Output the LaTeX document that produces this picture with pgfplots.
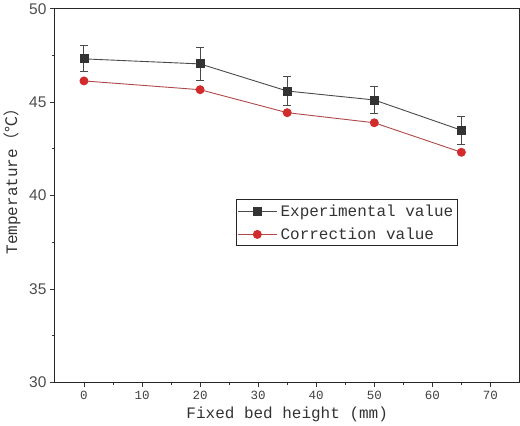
\documentclass[border=0pt]{standalone}
\usepackage{pgfplots}
\pgfplotsset{compat=1.18}
\usepackage{fontspec}
\setmainfont{Liberation Sans}
\newfontfamily\mono{Liberation Mono}
\newfontfamily\cjk{Noto Sans CJK SC}
\definecolor{expc}{HTML}{333333}
\definecolor{expl}{HTML}{4A4A4A}
\definecolor{corc}{HTML}{D22B2B}
\definecolor{corl}{HTML}{B04848}
\begin{document}
\begin{tikzpicture}
\begin{axis}[
  scale only axis,
  width=465pt, height=374pt,
  xmin=-5, xmax=75, ymin=30, ymax=50,
  xtick={0,10,...,70}, ytick={30,35,...,50},
  minor x tick num=1, minor y tick num=1,
  tick pos=left, tick align=outside,
  major tick length=5pt, minor tick length=3pt,
  axis line style={line width=1.1pt, black!85},
  every tick/.style={line width=0.9pt, black!80},
  /pgf/number format/assume math mode=true,
  x tick label style={font=\mono\fontsize{12.5}{13}\selectfont, text=black!75},
  y tick label style={font=\fontsize{15.5}{15}\selectfont, text=black!70},
  xlabel={\mono Fixed bed height (mm)},
  ylabel={\mono Temperature\cjk{（℃）}},
  label style={font=\fontsize{16}{16}\selectfont, text=black!80},
  xlabel style={yshift=-1pt},
  ylabel style={at={(ticklabel cs:0.548)}, yshift=2pt},
  legend style={at={(0.39,0.49)}, anchor=north west, draw=black!85, line width=0.9pt,
    font=\mono\fontsize{16}{17}\selectfont, text=black!80, inner xsep=1pt, inner ysep=3pt, row sep=6pt,
    nodes={inner xsep=3.5pt}},
  legend cell align=left,
  legend image code/.code={
    \draw[mark repeat=2, mark phase=2] plot coordinates {(0cm,0cm) (0.68cm,0cm) (1.36cm,0cm)};
  },
]
\addplot[expl, line width=0.9pt, mark=square*, mark size=4pt,
  mark options={fill=expc, draw=expc},
  error bars/.cd, y dir=both, y explicit,
  error bar style={line width=1pt, expl}, error mark options={rotate=90, mark size=4pt, line width=1pt, expl}]
coordinates {
(0,47.32) +- (0,0.70)
(20,47.05) +- (0,0.90)
(35,45.60) +- (0,0.80)
(50,45.12) +- (0,0.73)
(65,43.50) +- (0,0.76)
};
\addlegendentry{Experimental value}
\addplot[corl, line width=0.9pt, mark=*, mark size=4pt,
  mark options={fill=corc, draw=corc}]
coordinates {
(0,46.14) (20,45.67) (35,44.44) (50,43.90) (65,42.32)
};
\addlegendentry{Correction value}
\end{axis}
\end{tikzpicture}
\end{document}
